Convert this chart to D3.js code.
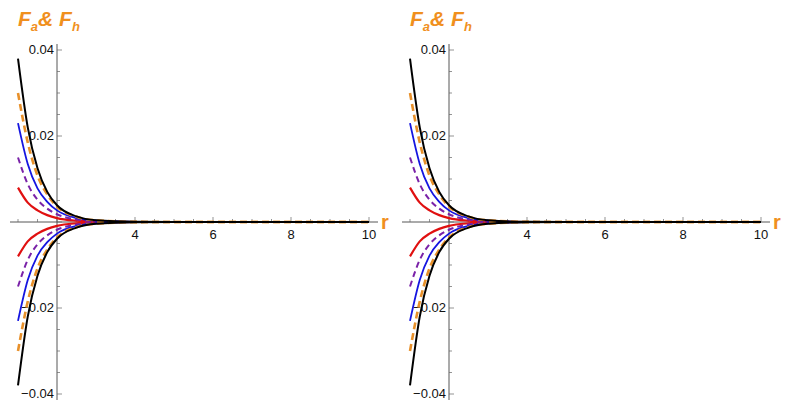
<!DOCTYPE html>
<html><head><meta charset="utf-8">
<script src="https://cdn.jsdelivr.net/npm/d3@7"></script>
<style>body{margin:0;background:#fff}</style></head>
<body><svg id="c" width="800" height="409"></svg>
<script>
'use strict';

var rValues = [1, 1.25, 1.5, 1.75, 2, 2.5, 3, 4, 5, 10];
var blackVals  = [0.038, 0.022, 0.0125, 0.007, 0.0039, 0.0013, 0.0004, 0.00004, 0, 0];
var orangeVals = [0.030, 0.0185, 0.0108, 0.0064, 0.0036, 0.0012, 0.0004, 0.00003, 0, 0];
var blueVals   = [0.023, 0.0135, 0.0078, 0.0047, 0.0027, 0.0009, 0.0003, 0.00002, 0, 0];
var purpleVals = [0.015, 0.0088, 0.0052, 0.0031, 0.0018, 0.0006, 0.0002, 0, 0, 0];
var redVals    = [0.008, 0.0045, 0.0027, 0.0016, 0.0009, 0.0003, 0.0001, 0, 0, 0];
var xTicks = [4, 6, 8, 10];
var yTicks = [-0.04, -0.02, 0.02, 0.04];

var series = [
  {vals: redVals, color: '#e01010', dash: null, w: 2.2},
  {vals: purpleVals, color: '#7a22a8', dash: '6,4', w: 2},
  {vals: blueVals, color: '#1515e0', dash: null, w: 1.8},
  {vals: orangeVals, color: '#e8902a', dash: '7,4', w: 2.6},
  {vals: blackVals, color: '#000', dash: null, w: 2}
];

var svg = d3.select('#c');

function panel(ox) {
  var g = svg.append('g').attr('transform', 'translate(' + ox + ',0)');
  var x = d3.scaleLinear().domain([2, 10]).range([57, 369]);
  var y = d3.scaleLinear().domain([-0.04, 0.04]).range([394, 50]);

  g.append('line').attr('x1', 10).attr('x2', 378).attr('y1', y(0)).attr('y2', y(0))
    .attr('stroke', '#444').attr('stroke-width', 0.9);
  g.append('line').attr('x1', x(2)).attr('x2', x(2)).attr('y1', 44).attr('y2', 400)
    .attr('stroke', '#444').attr('stroke-width', 0.9);

  d3.range(1, 10.01, 0.5).forEach(function (t) {
    var major = Math.abs(t % 2) < 1e-9;
    g.append('line').attr('x1', x(t)).attr('x2', x(t))
      .attr('y1', y(0)).attr('y2', y(0) - (major ? 5 : 3))
      .attr('stroke', '#666').attr('stroke-width', 0.7);
  });
  d3.range(-0.04, 0.0401, 0.005).forEach(function (t) {
    var major = Math.abs(Math.round(t * 1000) % 20) === 0;
    g.append('line').attr('x1', x(2)).attr('x2', x(2) + (major ? 5 : 3))
      .attr('y1', y(t)).attr('y2', y(t))
      .attr('stroke', '#666').attr('stroke-width', 0.7);
  });
  xTicks.forEach(function (t) {
    g.append('text').attr('x', x(t)).attr('y', y(0) + 17).attr('text-anchor', 'middle')
      .attr('font-family', 'Liberation Sans Narrow, Liberation Sans, sans-serif')
      .attr('font-size', 13).attr('fill', '#111').text(t);
  });
  yTicks.forEach(function (t) {
    g.append('text').attr('x', x(2) - 3).attr('y', y(t) + 4).attr('text-anchor', 'end')
      .attr('font-family', 'Liberation Sans Narrow, Liberation Sans, sans-serif')
      .attr('font-size', 13).attr('fill', '#111').text(t < 0 ? '\u2212' + Math.abs(t) : t);
  });

  var line = d3.line().x(function (d) { return x(d[0]); }).y(function (d) { return y(d[1]); })
    .curve(d3.curveMonotoneX);
  series.forEach(function (s) {
    [1, -1].forEach(function (sign) {
      var pts = rValues.map(function (r, i) { return [r, sign * s.vals[i]]; });
      g.append('path').attr('d', line(pts)).attr('fill', 'none')
        .attr('stroke', s.color).attr('stroke-width', s.w)
        .attr('stroke-dasharray', s.dash);
    });
  });

  var title = g.append('text').attr('x', 18).attr('y', 26)
    .attr('font-family', 'Liberation Sans Narrow, Liberation Sans, sans-serif').attr('font-size', 21)
    .attr('font-weight', 'bold').attr('font-style', 'italic').attr('fill', '#f0901e');
  title.append('tspan').text('F');
  title.append('tspan').attr('font-size', 13).attr('dy', 5).text('a');
  title.append('tspan').attr('dy', -5).text('& F');
  title.append('tspan').attr('font-size', 13).attr('dy', 5).text('h');

  g.append('text').attr('x', 381).attr('y', y(0) + 7)
    .attr('font-family', 'Liberation Sans Narrow, Liberation Sans, sans-serif').attr('font-size', 20)
    .attr('font-weight', 'bold').attr('fill', '#f0901e').text('r');
}

panel(0);
panel(392);
</script></body></html>
